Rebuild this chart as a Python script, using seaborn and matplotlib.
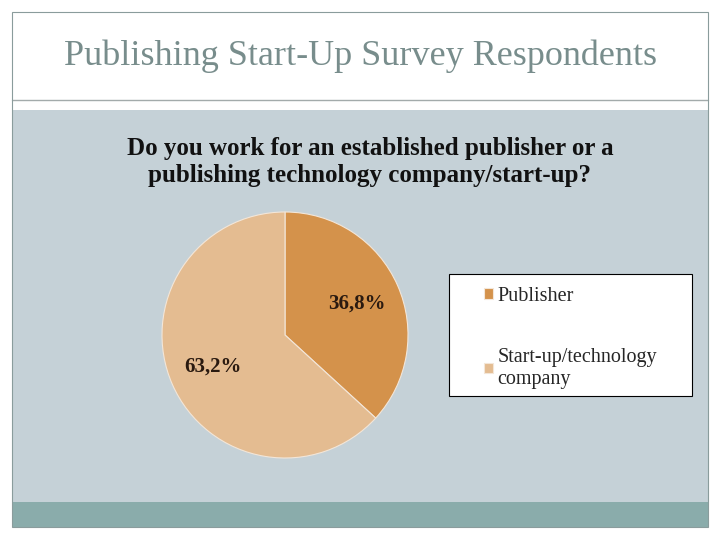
import matplotlib
matplotlib.use("Agg")
import matplotlib.pyplot as plt
from matplotlib.patches import Rectangle
from matplotlib.lines import Line2D
import seaborn as sns

# Survey data
labels = ["Publisher", "Start-up/technology\ncompany"]
shares = [36.8, 63.2]
colors = ["#d4924b", "#e4bc91"]

slide_title = "Publishing Start-Up Survey Respondents"
chart_title = "Do you work for an established publisher or a\npublishing technology company/start-up?"

sns.set_theme(style="white")
plt.rcParams["font.family"] = ["Liberation Serif", "DejaVu Serif"]

W, H = 720, 540


def fx(x):
    return x / W


def fy(y):
    return 1 - y / H


fig = plt.figure(figsize=(7.2, 5.4), dpi=100)
fig.patch.set_facecolor("white")

# slide decoration: grey panel, teal footer, divider and border
fig.add_artist(Rectangle((fx(12), fy(502)), 696 / W, 392 / H, transform=fig.transFigure,
                         facecolor="#c5d1d7", edgecolor="none", zorder=-2))
fig.add_artist(Rectangle((fx(12), fy(527)), 696 / W, 25 / H, transform=fig.transFigure,
                         facecolor="#8aacab", edgecolor="none", zorder=-2))
fig.add_artist(Line2D([fx(12), fx(708)], [fy(100), fy(100)], transform=fig.transFigure,
                      color="#a3abab", lw=1, zorder=-1))
fig.add_artist(Rectangle((fx(12), fy(527)), 696 / W, 515 / H, transform=fig.transFigure,
                         facecolor="none", edgecolor="#8a9c9c", lw=0.8, zorder=-1))
# legend box
fig.add_artist(Rectangle((fx(449), fy(396)), 243 / W, 122 / H, transform=fig.transFigure,
                         facecolor="white", edgecolor="black", lw=0.8, zorder=-0.5))

fig.text(0.5, fy(56), slide_title, ha="center", va="center", fontsize=26, color="#788d8c")
fig.text(fx(370), fy(162), chart_title, ha="center", va="center", fontsize=18,
         fontweight="bold", color="#111111", linespacing=1.25)

# pie chart
ax = fig.add_axes([fx(162), fy(458), 246 / W, 246 / H])
wedges, texts, autotexts = ax.pie(
    shares,
    colors=colors,
    startangle=90,
    counterclock=False,
    autopct=lambda p: f"{p:.1f}%".replace(".", ","),
    pctdistance=0.64,
    wedgeprops=dict(edgecolor="#f3e6d8", linewidth=0.8),
    textprops=dict(fontsize=15, fontweight="bold", color="#2a1a10"),
)
ax.set_xlim(-1, 1)
ax.set_ylim(-1, 1)
ax.set_aspect("equal")
ax.axis("off")

ax.legend(wedges, labels, loc="upper left", bbox_to_anchor=(fx(474), fy(276.5)),
          bbox_transform=fig.transFigure, frameon=False, fontsize=14.5,
          handlelength=0.45, handleheight=0.45, handletextpad=0.2, labelspacing=2.1,
          borderpad=0)

fig.savefig("out.png", dpi=100)
